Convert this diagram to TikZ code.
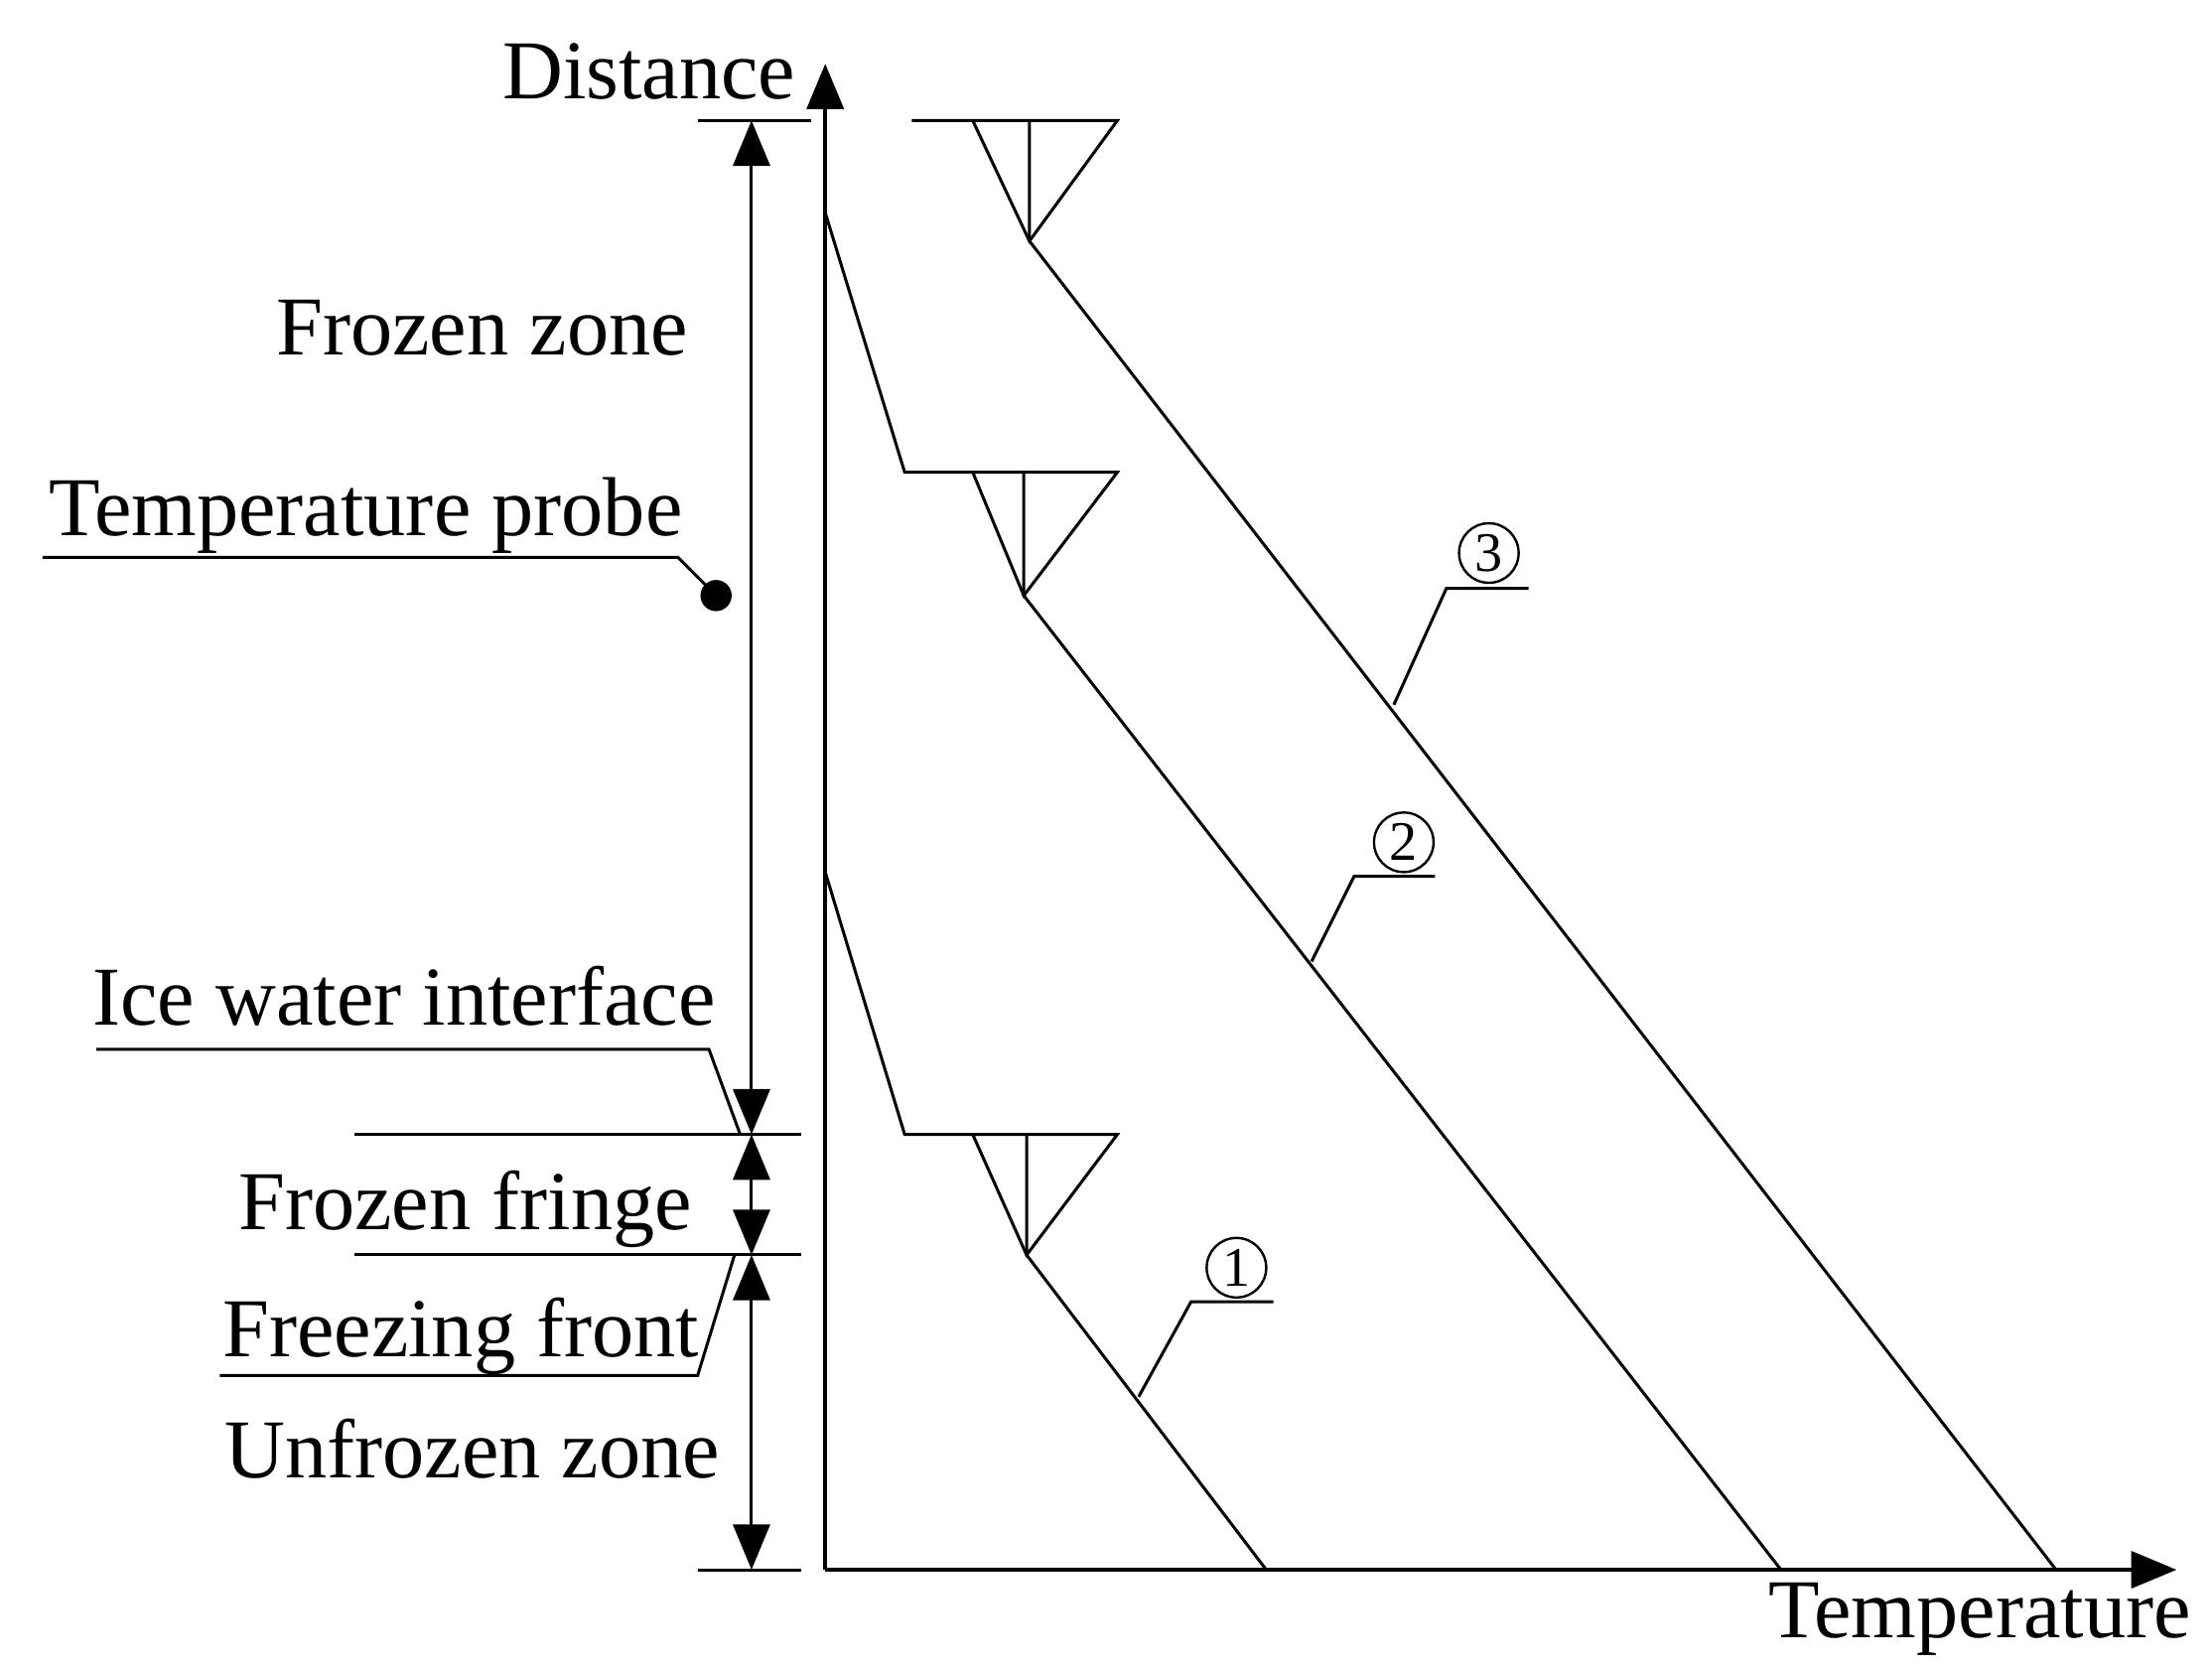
\documentclass[tikz,border=0pt]{standalone}
\usepackage{fontspec}
\setmainfont{Liberation Serif}
\usetikzlibrary{arrows.meta}
\begin{document}
\begin{tikzpicture}[x=0.05cm,y=-0.05cm,line width=3pt,
  tri/.style={-{Triangle[length=1.6cm,width=1.3cm]}},
  tritri/.style={{Triangle[length=1.6cm,width=1.3cm]}-{Triangle[length=1.6cm,width=1.3cm]}},
  lbl/.style={font=\fontsize{84}{88}\selectfont,inner sep=0pt},
  num/.style={circle,draw,line width=2.4pt,minimum size=2.1cm,inner sep=0pt,font=\fontsize{56}{60}\selectfont}]
\useasboundingbox (0,0) rectangle (1560,1176);
% axes
\coordinate (O) at (582,1107);
\coordinate (Ytip) at (582,45);
\coordinate (Xtip) at (1535,1107);
\draw[tri,line width=3.6pt] (O) -- (Ytip);
\draw[tri,line width=3.6pt] (O) -- (Xtip);
\node[lbl,anchor=base east] (dist) at (562,70) {Distance};
\node[lbl,anchor=base east] (temp) at (1546,1155) {Temperature};
% dimension ticks
\coordinate (t0a) at (492,85); \coordinate (t0b) at (572,85);
\coordinate (t1a) at (250,800); \coordinate (t1b) at (565,800);
\coordinate (t2a) at (250,885); \coordinate (t2b) at (565,885);
\coordinate (t3a) at (492,1107); \coordinate (t3b) at (565,1107);
\draw (t0a) -- (t0b); \draw (t1a) -- (t1b); \draw (t2a) -- (t2b); \draw (t3a) -- (t3b);
\coordinate (d0) at (530,85); \coordinate (d1) at (530,800);
\coordinate (d2) at (530,885); \coordinate (d3) at (530,1107);
\draw[tritri] (d0) -- (d1);
\draw[tritri] (d1) -- (d2);
\draw[tritri] (d2) -- (d3);
% labels
\node[lbl,anchor=base] (fz) at (340,250) {Frozen zone};
\node[lbl,anchor=base] (tp) at (258,378) {Temperature probe};
\coordinate (tpu1) at (30,393); \coordinate (tpu2) at (478,393);
\fill (505,420) circle (11) coordinate (probe);
\draw (tpu1) -- (tpu2) -- (probe);
\node[lbl,anchor=base] (iw) at (285,723) {Ice water interface};
\coordinate (iwu1) at (68,740); \coordinate (iwu2) at (500,740);
\coordinate (iwend) at (522,800);
\draw (iwu1) -- (iwu2) -- (iwend);
\node[lbl,anchor=base] (ff) at (328,867) {Frozen fringe};
\node[lbl,anchor=base] (fr) at (325,957) {Freezing front};
\coordinate (fru1) at (155,970); \coordinate (fru2) at (492,970);
\coordinate (frend) at (518,885);
\draw (fru1) -- (fru2) -- (frend);
\node[lbl,anchor=base] (uz) at (333,1042) {Unfrozen zone};
% curve 3
\coordinate (c3h1) at (643,85); \coordinate (c3h2) at (788,85);
\coordinate (c3l) at (686,85); \coordinate (c3a) at (726,170); \coordinate (c3v) at (726,85);
\coordinate (c3e) at (1450,1107);
\draw (c3h1) -- (c3h2) -- (c3a) -- (c3l);
\draw (c3v) -- (c3a) -- (c3e);
% curve 2
\coordinate (c2s) at (582,150); \coordinate (c2k) at (638,333);
\coordinate (c2h2) at (788,333); \coordinate (c2l) at (686,333);
\coordinate (c2a) at (722,420); \coordinate (c2v) at (722,333);
\coordinate (c2e) at (1256,1107);
\draw (c2s) -- (c2k) -- (c2h2) -- (c2a) -- (c2l);
\draw (c2v) -- (c2a) -- (c2e);
% curve 1
\coordinate (c1s) at (582,615); \coordinate (c1k) at (638,800);
\coordinate (c1h2) at (788,800); \coordinate (c1l) at (686,800);
\coordinate (c1a) at (724,885); \coordinate (c1v) at (724,800);
\coordinate (c1e) at (893,1107);
\draw (c1s) -- (c1k) -- (c1h2) -- (c1a) -- (c1l);
\draw (c1v) -- (c1a) -- (c1e);
% number labels
\node[num] (n3) at (1050,390) {3};
\draw (1078,415) -- (1020,415) -- (983,497);
\node[num] (n2) at (990,594) {2};
\draw (1012,618) -- (955,618) -- (925,678);
\node[num] (n1) at (872,894) {1};
\draw (898,918) -- (840,918) -- (803,985);
\end{tikzpicture}
\end{document}
